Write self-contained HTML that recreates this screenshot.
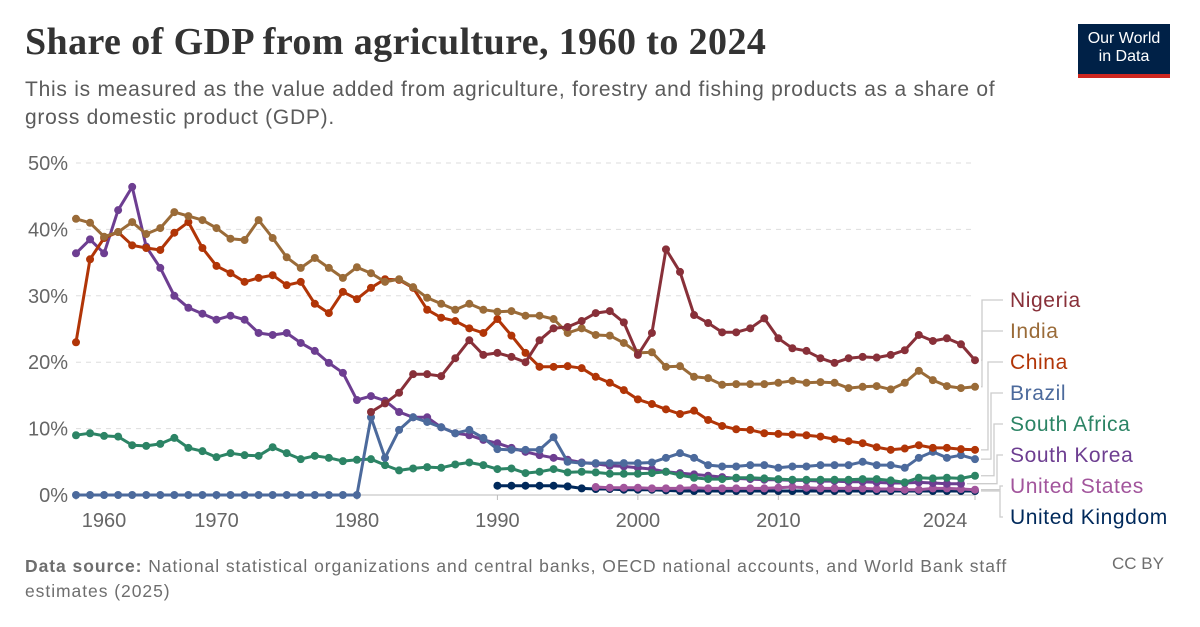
<!DOCTYPE html>
<html><head><meta charset="utf-8">
<style>
body{margin:0;background:#fff;}
#wrap{position:relative;width:1200px;height:627px;overflow:hidden;background:#fff;font-family:"Liberation Sans",sans-serif;}
h1{position:absolute;left:25px;top:20px;margin:0;font-family:"Liberation Serif",serif;font-weight:bold;font-size:38px;color:#333;letter-spacing:0.4px;white-space:nowrap;}
.sub{position:absolute;left:25px;top:76px;width:1100px;font-size:21px;line-height:28px;color:#5b5b5b;letter-spacing:0.75px;white-space:nowrap;}
.logo{position:absolute;left:1078px;top:24px;width:92px;height:54px;background:#002147;border-bottom:4px solid #ce261e;color:#fff;font-size:16px;line-height:18px;text-align:center;padding-top:6px;box-sizing:border-box;}
.foot{position:absolute;left:25px;top:554px;width:1080px;font-size:17.5px;line-height:25px;color:#6e6e6e;letter-spacing:0.95px;white-space:nowrap;}
.cc{position:absolute;left:1112px;top:554px;font-size:17px;color:#6e6e6e;}
svg{position:absolute;left:0;top:0;}
</style></head><body>
<div id="wrap">
<h1>Share of GDP from agriculture, 1960 to 2024</h1>
<div class="sub">This is measured as the value added from agriculture, forestry and fishing products as a share of<br>gross domestic product (GDP).</div>
<div class="logo">Our World<br>in Data</div>
<svg id="chart" width="1200" height="627"></svg>
<div class="foot"><b>Data source:</b> National statistical organizations and central banks, OECD national accounts, and World Bank staff<br>estimates (2025)</div>
<div class="cc">CC BY</div>
</div>
<script>
const yTicks=[0,10,20,30,40,50];
const xTickYears=[1960,1970,1980,1990,2000,2010,2024];
const countries=["Nigeria","India","China","Brazil","South Africa","South Korea","United States","United Kingdom"];
const colors=["#883039","#9a6b38","#b13507","#4c6a9c","#2c8465","#6d3e91","#a2559c","#00295b"];
const startYears=[1981,1960,1960,1960,1960,1960,1997,1990];
const nigeria=[12.5,13.8,15.4,18.2,18.2,17.9,20.6,23.3,21.1,21.4,20.8,20.0,23.3,25.1,25.3,26.2,27.4,27.7,26.0,21.1,24.4,37.0,33.6,27.1,25.9,24.5,24.5,25.1,26.6,23.6,22.1,21.7,20.6,19.9,20.6,20.8,20.7,21.1,21.8,24.1,23.2,23.6,22.7,20.3];
const india=[41.6,41.0,38.9,39.6,41.1,39.3,40.2,42.6,42.0,41.4,40.2,38.6,38.4,41.4,38.7,35.8,34.2,35.7,34.2,32.7,34.3,33.4,32.1,32.5,31.3,29.7,28.8,27.9,28.8,27.9,27.6,27.7,27.0,27.0,26.5,24.4,25.1,24.1,24.0,22.9,21.4,21.5,19.3,19.4,17.8,17.6,16.6,16.7,16.7,16.7,16.9,17.2,16.9,17.0,16.9,16.1,16.3,16.4,15.9,16.9,18.7,17.3,16.4,16.1,16.3];
const china=[23.0,35.5,38.7,39.6,37.6,37.2,36.9,39.5,41.1,37.2,34.5,33.4,32.1,32.7,33.1,31.6,32.1,28.8,27.4,30.6,29.5,31.2,32.5,32.4,31.2,27.9,26.7,26.2,25.1,24.4,26.5,24.0,21.4,19.3,19.3,19.4,19.1,17.8,16.9,15.8,14.4,13.7,12.9,12.2,12.7,11.3,10.4,9.9,9.8,9.3,9.2,9.1,9.0,8.8,8.4,8.1,7.8,7.2,6.8,7.0,7.5,7.1,7.1,6.9,6.8];
const brazil=[0,0,0,0,0,0,0,0,0,0,0,0,0,0,0,0,0,0,0,0,0,11.7,5.6,9.8,11.7,11.0,10.2,9.3,9.8,8.6,6.9,6.8,6.8,6.8,8.7,5.0,4.8,4.8,4.8,4.8,4.8,4.9,5.6,6.3,5.6,4.5,4.3,4.3,4.5,4.5,4.1,4.3,4.3,4.5,4.5,4.5,5.0,4.5,4.5,4.1,5.6,6.5,5.6,6.0,5.4];
const southAfrica=[9.0,9.3,8.9,8.8,7.5,7.4,7.7,8.6,7.1,6.6,5.7,6.3,6.0,5.9,7.2,6.3,5.4,5.9,5.6,5.1,5.3,5.4,4.5,3.7,4.0,4.2,4.1,4.6,4.9,4.5,3.9,4.0,3.3,3.5,3.9,3.4,3.5,3.4,3.2,3.2,3.2,3.3,3.5,3.0,2.6,2.4,2.4,2.6,2.6,2.5,2.4,2.3,2.3,2.3,2.3,2.3,2.4,2.4,2.2,1.9,2.6,2.5,2.6,2.5,2.9];
const southKorea=[36.4,38.5,36.4,42.9,46.4,37.4,34.2,30.0,28.2,27.3,26.4,27.0,26.4,24.4,24.1,24.4,22.9,21.7,19.9,18.4,14.3,14.9,14.2,12.5,11.7,11.7,10.2,9.3,9.0,8.3,7.8,7.1,6.5,6.0,5.6,5.3,4.9,4.7,4.4,4.3,4.1,3.9,3.5,3.3,3.1,2.9,2.7,2.5,2.4,2.3,2.3,2.2,2.2,2.1,2.1,2.0,2.0,1.9,1.8,1.8,1.9,1.8,1.7,1.7];
const unitedStates=[1.2,1.1,1.1,1.1,1.0,1.0,1.0,1.1,1.0,1.0,1.0,1.0,1.0,1.1,1.2,1.1,1.0,1.0,1.0,1.0,0.9,0.9,0.8,0.8,1.0,1.0,0.9,0.8];
const unitedKingdom=[1.4,1.4,1.4,1.4,1.4,1.3,1.0,0.9,0.9,0.8,0.8,0.8,0.7,0.6,0.6,0.6,0.6,0.6,0.6,0.6,0.6,0.6,0.6,0.6,0.6,0.6,0.6,0.6,0.6,0.6,0.6,0.6,0.6,0.6,0.6];
const labelNames=["Nigeria","India","China","Brazil","South Africa","South Korea","United States","United Kingdom"];
const series=[nigeria,india,china,brazil,southAfrica,southKorea,unitedStates,unitedKingdom];

const NS="http://www.w3.org/2000/svg";
const svg=document.getElementById('chart');
const X=y=>76+(y-1960)*(899/64);
const Y=v=>495-v*6.64;
function mk(t,a){const e=document.createElementNS(NS,t);for(const k in a)e.setAttribute(k,a[k]);svg.appendChild(e);return e;}

yTicks.forEach(t=>{
  if(t>0){const g=mk('line',{x1:76,x2:975,y1:Y(t),y2:Y(t),stroke:'#ddd','stroke-dasharray':'5,5'});
  
  }
  const l=mk('text',{x:68,y:Y(t)+7,'text-anchor':'end','font-size':20,fill:'#666','font-family':'Liberation Sans, sans-serif'});
  l.textContent=t+'%';
  
  
});
const ax=mk('line',{x1:76,x2:975,y1:495,y2:495,stroke:'#bbb'});


xTickYears.forEach((yr,i)=>{
  const tk=mk('line',{x1:X(yr),x2:X(yr),y1:495,y2:500,stroke:'#bbb'});
  
  
  let cx=X(yr);
  if(i===0)cx=Math.max(cx,104);
  if(i===xTickYears.length-1)cx=Math.min(cx,945);
  const l=mk('text',{x:cx,y:527,'text-anchor':'middle','font-size':20,fill:'#666','font-family':'Liberation Sans, sans-serif'});
  l.textContent=yr;
  
  
});
const order=[7,6,5,4,3,2,1,0];
order.forEach(i=>{
  const d=series[i],s=startYears[i];
  const pts=d.map((v,j)=>X(s+j).toFixed(1)+','+Y(v).toFixed(1)).join(' ');
  const pl=mk('polyline',{points:pts,fill:'none',stroke:colors[i],'stroke-width':3,'stroke-linejoin':'round'});
  
  
  d.forEach((v,j)=>{
    const c=mk('circle',{cx:X(s+j),cy:Y(v),r:4,fill:colors[i]});
    
    
  });
});
const labelY=[300,331,362,393,424,455,486,517];
const elbowX=[982,982,988,991,994,997,1000,1000];
series.forEach((d,i)=>{
  const ex=X(startYears[i]+d.length-1)+6,ey=Y(d[d.length-1]);
  const ln=mk('polyline',{points:`${ex},${ey} ${elbowX[i]},${ey} ${elbowX[i]},${labelY[i]} 1003,${labelY[i]}`,fill:'none',stroke:'#ccc','stroke-width':1.3});
  
  
  const t=mk('text',{x:1010,y:labelY[i]+7,'font-size':21,'letter-spacing':0.6,fill:colors[i],'font-family':'Liberation Sans, sans-serif'});
  t.textContent=labelNames[i];
  
  
});
</script>
</body></html>
